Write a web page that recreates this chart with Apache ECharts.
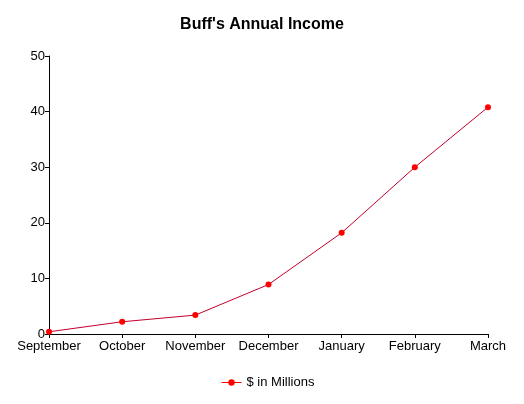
<!DOCTYPE html>
<html><head><meta charset="utf-8">
<script src="https://cdn.jsdelivr.net/npm/echarts@6/dist/echarts.min.js"></script>
<style>html,body{margin:0;padding:0;background:#fff}#c{width:524px;height:404px}</style>
</head><body><div id="c"></div>
<script>
const categories = ['September','October','November','December','January','February','March'];
const income = [0.4, 2.2, 3.4, 8.9, 18.2, 30.0, 40.8];
const yTicks = [0, 10, 20, 30, 40, 50];
const seriesName = '$ in Millions';
const titleText = "Buff's Annual Income";

const chart = echarts.init(document.getElementById('c'), null, {renderer:'canvas'});
const font = 'Arial, "Liberation Sans", sans-serif';
chart.setOption({
  animation: false,
  backgroundColor: '#fff',
  title: { text: titleText, left: 'center', top: 12,
    textStyle: { fontFamily: font, fontSize: 16, fontWeight: 'bold', color: '#000' } },
  legend: { bottom: 10, left: 216, itemWidth: 20, itemHeight: 8, itemGap: 6,
    data: [seriesName],
    lineStyle: { width: 1, color: '#ff0000' },
    textStyle: { fontFamily: font, fontSize: 13, color: '#000' } },
  grid: { left: 49, right: 36, top: 56, bottom: 70, containLabel: false },
  xAxis: { type: 'category', data: categories, boundaryGap: false,
    axisLine: { lineStyle: { color: '#000', width: 1 } },
    axisTick: { show: true, length: 4, lineStyle: { color: '#000' } },
    axisLabel: { color: '#000', fontFamily: font, fontSize: 13, margin: 6, interval: 0 },
    splitLine: { show: false } },
  yAxis: { type: 'value', min: yTicks[0], max: yTicks[yTicks.length-1], interval: 10,
    axisLine: { show: true, lineStyle: { color: '#000', width: 1 } },
    axisTick: { show: true, length: 4, lineStyle: { color: '#000' } },
    axisLabel: { color: '#000', fontFamily: font, fontSize: 13, margin: 4 },
    splitLine: { show: false } },
  series: [{ name: seriesName, type: 'line', data: income,
    symbol: 'circle', symbolSize: 6, showAllSymbol: true,
    lineStyle: { color: '#c4002a', width: 1 },
    itemStyle: { color: '#ff0000' } }]
});
</script></body></html>
